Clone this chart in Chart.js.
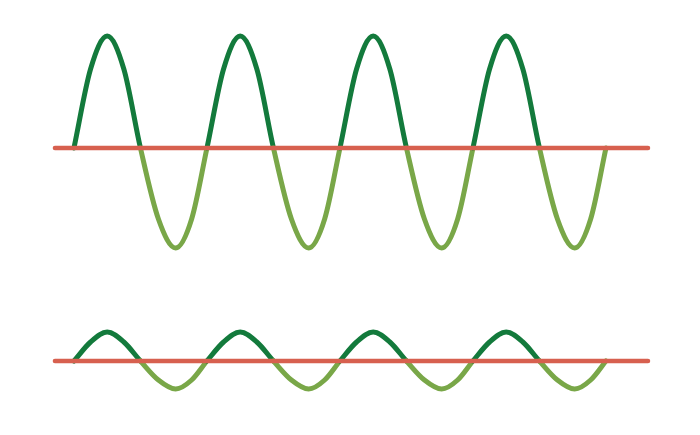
<!DOCTYPE html>
<html>
<head>
<meta charset="utf-8">
<script src="https://cdn.jsdelivr.net/npm/chart.js@4/dist/chart.umd.min.js"></script>
<style>
  html, body { margin: 0; padding: 0; background: #fff; }
  #wrap { width: 700px; height: 435px; position: relative; }
</style>
</head>
<body>
<div id="wrap"><canvas id="waves"></canvas></div>
<script>
// phase in cycles, read about every eighth of a period (troughs sit a touch late)
const cycles = [0, 0.125, 0.25, 0.375, 0.5, 0.635, 0.765, 0.885,
  1, 1.125, 1.25, 1.375, 1.5, 1.635, 1.765, 1.885,
  2, 2.125, 2.25, 2.375, 2.5, 2.635, 2.765, 2.885,
  3, 3.125, 3.25, 3.375, 3.5, 3.635, 3.765, 3.885, 4];

// big wave (top)
const bigWave = [0, 0.79, 1.12, 0.79, 0, -0.71, -1.0, -0.71,
  0, 0.79, 1.12, 0.79, 0, -0.71, -1.0, -0.71,
  0, 0.79, 1.12, 0.79, 0, -0.71, -1.0, -0.71,
  0, 0.79, 1.12, 0.79, 0, -0.71, -1.0, -0.71, 0];

// small wave (bottom)
const smallWave = [0, 0.19, 0.29, 0.19, 0, -0.19, -0.28, -0.19,
  0, 0.19, 0.29, 0.19, 0, -0.19, -0.28, -0.19,
  0, 0.19, 0.29, 0.19, 0, -0.19, -0.28, -0.19,
  0, 0.19, 0.29, 0.19, 0, -0.19, -0.28, -0.19, 0];

// zero lines run a little past the waves on both sides
const baseStart = -0.143;
const baseEnd = 4.316;

const darkGreen = '#137a3c';
const lightGreen = '#79a748';
const red = '#d7604f';

const toPoints = (xs, ys) => xs.map((x, i) => ({ x: x, y: ys[i] }));
const signColor = ctx => (ctx.p0.parsed.y + ctx.p1.parsed.y) >= 0 ? darkGreen : lightGreen;

const waveStyle = {
  borderWidth: 5,
  pointRadius: 0,
  cubicInterpolationMode: 'monotone',
  borderCapStyle: 'round',
  borderJoinStyle: 'round',
  segment: { borderColor: signColor },
  order: 2
};
const baseStyle = {
  borderColor: red,
  borderWidth: 4.5,
  pointRadius: 0,
  borderCapStyle: 'round',
  order: 0
};

new Chart(document.getElementById('waves'), {
  type: 'line',
  data: {
    datasets: [
      Object.assign({ label: 'zero top', data: [{ x: baseStart, y: 0 }, { x: baseEnd, y: 0 }], yAxisID: 'yTop' }, baseStyle),
      Object.assign({ label: 'zero bottom', data: [{ x: baseStart, y: 0 }, { x: baseEnd, y: 0 }], yAxisID: 'yBot' }, baseStyle),
      Object.assign({ label: 'big', data: toPoints(cycles, bigWave), yAxisID: 'yTop', borderColor: darkGreen }, waveStyle),
      Object.assign({ label: 'small', data: toPoints(cycles, smallWave), yAxisID: 'yBot', borderColor: darkGreen }, waveStyle)
    ]
  },
  options: {
    responsive: true,
    maintainAspectRatio: false,
    animation: false,
    layout: { padding: 0 },
    plugins: { legend: { display: false }, tooltip: { enabled: false } },
    scales: {
      x: { type: 'linear', min: -0.556, max: 4.707, display: false },
      yTop: { type: 'linear', min: -2.87, max: 1.48, display: false },
      yBot: { type: 'linear', min: -0.74, max: 3.61, display: false }
    }
  }
});
</script>
</body>
</html>
